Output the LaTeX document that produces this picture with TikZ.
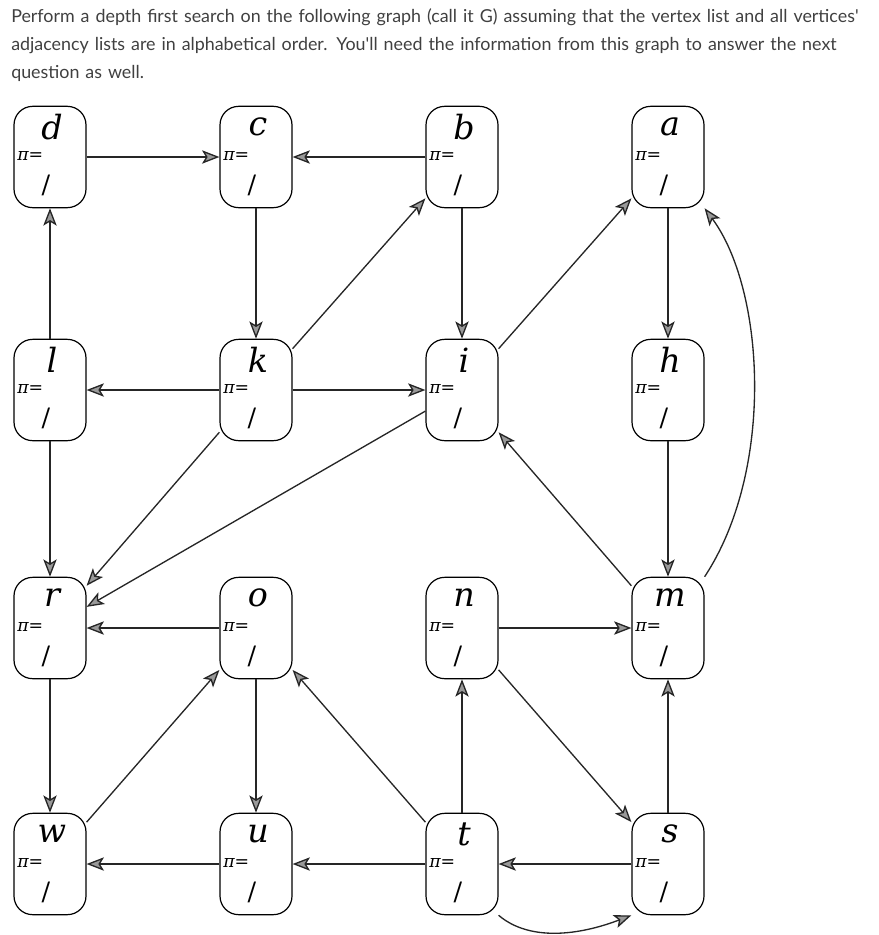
\documentclass[tikz,border=0pt]{standalone}
\usepackage{fontspec}
\newfontfamily\hdr{Lato}
\newfontfamily\lbl{DejaVu Serif}
\usetikzlibrary{arrows.meta}
\begin{document}
\begin{tikzpicture}[x=0.75pt,y=-0.75pt,
  v/.style={draw,line width=0.9pt,rounded corners=14pt,minimum width=54pt,minimum height=76pt,inner sep=0pt},
  e/.style={line width=1pt,draw=black!85,-{Stealth[length=13pt,width=10pt,fill=gray!80,inset=3pt]}},
  nm/.style={font=\lbl\itshape\fontsize{25}{25}\selectfont},
  pi/.style={font=\lbl\itshape\fontsize{13}{13}\selectfont,anchor=west,inner sep=0pt},
  sl/.style={font=\lbl\fontsize{19}{19}\selectfont}]
\useasboundingbox (0,0) rectangle (878,935);
\node[anchor=north west,align=left,text width=640pt,inner sep=0pt,font=\hdr\fontsize{13.4}{21}\selectfont,text=black!75] (hd) at (11,8) {Perform a depth first search on the following graph (call it G) assuming that the vertex list and all vertices' adjacency lists are in alphabetical order. You'll need the information from this graph to answer the next question as well.};
\foreach \n/\x/\y in {d/50/157,c/256/157,b/462/157,a/668/157,
  l/50/390,k/256/390,i/462/390,h/668/390,
  r/50/628,o/256/628,n/462/628,m/668/628,
  w/50/864,u/256/864,t/462/864,s/668/864}{
  \node[v] (\n) at (\x,\y) {};
  \node[nm] (\n L) at (\x+2,\y-30) {\n};
  \node[pi] (\n P) at (\x-33,\y-1) {π=};
  \node[sl] (\n S) at (\x-4,\y+28) {/};
}
\draw[e] (d) -- (c);
\draw[e] (b) -- (c);
\draw[e] (c) -- (k);
\draw[e] (k) -- (b);
\draw[e] (b) -- (i);
\draw[e] (i) -- (a);
\draw[e] (a) -- (h);
\draw[e] (m.north east) .. controls (775,470) and (765,290) .. (a.south east);
\draw[e] (l) -- (d);
\draw[e] (k) -- (l);
\draw[e] (k) -- (i);
\draw[e] (l) -- (r);
\draw[e] (k) -- (r);
\draw[e] (i) -- (r);
\draw[e] (m) -- (i);
\draw[e] (h) -- (m);
\draw[e] (o) -- (r);
\draw[e] (n) -- (m);
\draw[e] (n) -- (s);
\draw[e] (r) -- (w);
\draw[e] (w) -- (o);
\draw[e] (o) -- (u);
\draw[e] (t) -- (o);
\draw[e] (t) -- (n);
\draw[e] (s) -- (m);
\draw[e] (t) -- (u);
\draw[e] (u) -- (w);
\draw[e] (s) -- (t);
\draw[e] (t.south east) .. controls (530,942) and (580,935) .. (s.south west);
\end{tikzpicture}
\end{document}
